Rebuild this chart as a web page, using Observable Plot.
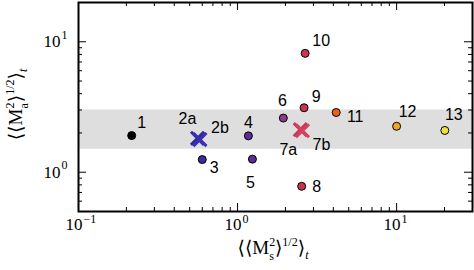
<!DOCTYPE html>
<html><head><meta charset="utf-8">
<script src="https://cdn.jsdelivr.net/npm/d3@7"></script>
<script src="https://cdn.jsdelivr.net/npm/@observablehq/plot@0.6"></script>
<style>body{margin:0;background:#fff}</style>
</head><body><div id="chart"></div>
<script>
const names   = ["1","2a","2b","3","4","5","6","7a","7b","8","9","10","11","12","13"];
const msVals  = [0.216,0.56,0.58,0.60,1.17,1.24,1.94,2.48,2.56,2.53,2.62,2.66,4.17,10.0,20.1];
const maVals  = [1.91,1.82,1.78,1.25,1.90,1.26,2.60,2.12,2.08,0.78,3.12,8.15,2.87,2.25,2.09];
const markers = ["circle","times","times","circle","circle","circle","circle","times","times","circle","circle","circle","circle","circle","circle"];
const colors  = ["#000000","#2f2a9e","#3a30b0","#3b2a9a","#5a2d9e","#5f2a9c","#8c3a8c","#c8385a","#d4415e","#c83050","#c93452","#cc3552","#ec5e22","#f0a428","#f0dc44"];
const labelDx = [10,-10,20,12,0,-2,-1,-12,19,15,12,16,19,11,9];
const labelDy = [-13,-19,-12,8,-13,24,-17,20,14,1,-11,-12,4,-14,-16];
const bandRange = [1.5, 3];
const xDomain = [0.1, 30];
const yDomain = [0.5, 20];
const xMajor = [0.1, 1, 10];
const xMinor = [0.2,0.3,0.4,0.5,0.6,0.7,0.8,0.9,2,3,4,5,6,7,8,9,20];
const yMajor = [1, 10];
const yMinor = [0.6,0.7,0.8,0.9,2,3,4,5,6,7,8,9];
const xTickExp = ["−1","0","1"];
const yTickExp = ["0","1"];

const W = 474, H = 270, mL = 78, mR = 2, mT = 2, mB = 59;
const fw = W - mL - mR, fh = H - mT - mB;
const idx = names.map((_, i) => i);
const circ = idx.filter(i => markers[i] === "circle");
const tim = idx.filter(i => markers[i] === "times");
const serif = "Liberation Serif, DejaVu Serif, serif";
const sans = "Liberation Sans, Arial, sans-serif";

const tickMarks = (vals, len) => [
  Plot.ruleX(vals, {x: d => d, insetTop: fh - len, stroke: "black", strokeWidth: 1}),
  Plot.ruleX(vals, {x: d => d, insetBottom: fh - len, stroke: "black", strokeWidth: 1}),
];
const tickMarksY = (vals, len) => [
  Plot.ruleY(vals, {y: d => d, insetRight: fw - len, stroke: "black", strokeWidth: 1}),
  Plot.ruleY(vals, {y: d => d, insetLeft: fw - len, stroke: "black", strokeWidth: 1}),
];

const plot = Plot.plot({
  width: W, height: H, marginLeft: mL, marginRight: mR, marginTop: mT, marginBottom: mB,
  style: {background: "white"},
  x: {type: "log", domain: xDomain, axis: null},
  y: {type: "log", domain: yDomain, axis: null},
  marks: [
    Plot.rect([bandRange], {x1: () => xDomain[0], x2: () => xDomain[1], y1: d => d[0], y2: d => d[1], fill: "#dedede"}),
    ...tickMarks(xMajor, 8), ...tickMarks(xMinor, 4),
    ...tickMarksY(yMajor, 8), ...tickMarksY(yMinor, 4),
    Plot.text(xMajor, {x: d => d, frameAnchor: "bottom", dy: 18, dx: 4, textAnchor: "end", text: () => "10", fontSize: 17, fontFamily: serif}),
    Plot.text(xMajor, {x: d => d, frameAnchor: "bottom", dy: 11, dx: 5, textAnchor: "start", text: (d, i) => xTickExp[i], fontSize: 12, fontFamily: serif}),
    Plot.text(yMajor, {y: d => d, frameAnchor: "left", dx: -18, textAnchor: "end", text: () => "10", fontSize: 17, fontFamily: serif}),
    Plot.text(yMajor, {y: d => d, frameAnchor: "left", dx: -17, dy: -7, textAnchor: "start", text: (d, i) => yTickExp[i], fontSize: 12, fontFamily: serif}),
    Plot.dot(circ, {x: i => msVals[i], y: i => maVals[i], r: 4, fill: i => colors[i], stroke: "black", strokeWidth: 1}),
    Plot.dot(tim, {x: i => msVals[i], y: i => maVals[i], symbol: "times", r: 6, stroke: i => colors[i], strokeWidth: 3}),
    ...idx.map(i => Plot.text([i], {x: j => msVals[j], y: j => maVals[j], text: j => names[j], dx: labelDx[i], dy: labelDy[i], fontSize: 16, fontFamily: sans, fill: "black"})),
    Plot.frame({stroke: "black", strokeWidth: 2})
  ]
});
document.getElementById("chart").appendChild(plot);

const svg = d3.select(plot);
function mathLabel(g, sub) {
  const t = g.append("text").attr("font-family", serif).attr("font-size", 19).attr("fill", "black").attr("text-anchor", "middle");
  t.append("tspan").text("⟨⟨M");
  t.append("tspan").attr("font-size", 12).attr("dy", -8).text("2");
  t.append("tspan").attr("font-size", 12).attr("dx", -6).attr("dy", 14).text(sub);
  t.append("tspan").attr("dy", -6).attr("dx", 1).text("⟩");
  t.append("tspan").attr("font-size", 12).attr("dy", -8).text("1/2");
  t.append("tspan").attr("dy", 8).text("⟩");
  t.append("tspan").attr("font-size", 12).attr("dy", 5).attr("font-style", "italic").text("t");
  return t;
}
const gx = svg.append("g").attr("transform", `translate(${mL + fw / 2 - 2},254)`);
mathLabel(gx, "s");
const gy = svg.append("g").attr("transform", `translate(22,${mT + fh / 2 - 2}) rotate(-90)`);
mathLabel(gy, "a");
</script>
</body></html>
